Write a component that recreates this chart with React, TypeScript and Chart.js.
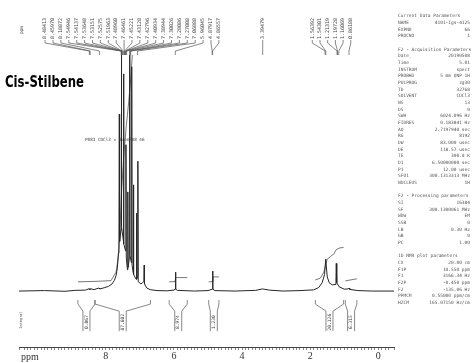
import { useEffect, useRef } from 'react';
import { Chart, registerables } from 'chart.js';

Chart.register(...registerables);

// ---- spectrum (ppm, intensity) ----
const specPpm = [10.55, 9.8, 9.2, 8.9, 8.6, 8.49, 8.47, 8.45, 8.35, 8.2, 8.18, 8.05, 7.92, 7.82, 7.75, 7.7, 7.66, 7.63,
  7.615, 7.605, 7.595, 7.555, 7.545, 7.535, 7.49, 7.48, 7.47, 7.42, 7.41, 7.4, 7.365, 7.355, 7.345,
  7.31, 7.3, 7.29, 7.25, 7.24, 7.23, 7.2, 7.19, 7.18, 7.11, 7.1, 7.09, 7.07, 7.06, 7.05,
  6.97, 6.93, 6.885, 6.875, 6.865, 6.8, 6.7, 6.5, 6.2, 6.0, 5.965, 5.955, 5.945, 5.9, 5.4, 5.0,
  4.875, 4.865, 4.855, 4.8, 4.2, 3.6, 3.4, 3.2, 2.8, 2.3, 1.9, 1.75, 1.65, 1.58, 1.545, 1.53, 1.5, 1.44,
  1.35, 1.27, 1.245, 1.235, 1.22, 1.15, 1.0, 0.88, 0.86, 0.84, 0.6, 0.2, -0.46];
const specInt = [0, 0.2, -0.1, 0.3, 0.4, 1.0, 0.5, 1.0, 0.6, 1.3, 0.9, 1.4, 2.0, 3.0, 4.5, 6.5, 10, 16,
  22, 75, 21, 26, 150, 27, 22, 92, 20, 17, 62, 14, 9, 42, 10,
  14, 150, 15, 12, 95, 11, 8, 45, 7, 5, 33, 5, 6, 55, 4,
  3, 3.5, 4, 11, 3, 1.3, 0.6, 0.2, 0.1, 0.4, 0.8, 8, 0.8, 0.3, 0, 0.2,
  0.8, 8.5, 0.8, 0.2, 0, 0.3, 0.9, 0.4, 0, 0.2, 0.5, 1.5, 3.5, 7, 13.5, 11, 6, 3.5,
  2.6, 2.8, 4, 11.7, 3.5, 1.8, 0.8, 0.9, 1.3, 0.7, 0.2, 0, 0];

// ---- integral traces ----
const intAPpm = [8.82, 8.32, 7.85, 7.7, 7.64, 7.59, 7.54, 7.47, 7.4, 7.33, 7.27, 7.2, 7.1];
const intAVal = [3.9, 4.1, 4.4, 8, 14, 24, 42, 58, 70, 80, 90, 105, 115];
const intBPpm = [6.14, 5.97, 5.95, 5.61];
const intBVal = [3.9, 4.0, 5.7, 5.7];
const intCPpm = [4.98, 4.875, 4.855, 4.68];
const intCVal = [3.9, 4.0, 6.0, 6.0];
const intDPpm = [1.85, 1.7, 1.6, 1.55, 1.5, 1.41, 1.3, 1.24, 1.15, 1.02];
const intDVal = [4.7, 5.5, 8, 11, 13.5, 14.6, 15.8, 17.5, 18.2, 18.5];
const intEPpm = [0.97, 0.63];
const intEVal = [4.3, 5.2];

// ---- integral regions ----
const intStart = [8.82, 8.32, 6.14, 4.98, 1.85, 0.97];
const intEnd = [8.32, 6.69, 5.61, 4.68, 1.02, 0.63];
const intLabels = ['0.067', '87.602', '8.974', '1.230', '20.126', '6.315'];

// ---- peak picking labels ----
const peaksLeft = ['8.48413', '8.45970', '8.18872', '7.54946', '7.54137', '7.53648', '7.53151', '7.52575',
  '7.51963', '7.48960', '7.46461', '7.45221', '7.43128', '7.42796', '7.40934', '7.38944', '7.30026',
  '7.28086', '7.27008', '7.06888', '5.96045', '4.87917', '4.86557'];
const peaksMid = ['3.39479'];
const peaksRight = ['1.56392', '1.54301', '1.21319', '1.19728', '1.16069', '0.86188'];

const xTickLabels = [8, 6, 4, 2, 0];

// ---- parameter panel ----
const paramKeys = ['Current Data Parameters', 'NAME', 'EXPNO', 'PROCNO', '',
  'F2 - Acquisition Parameters', 'Date_', 'Time', 'INSTRUM', 'PROBHD', 'PULPROG', 'TD', 'SOLVENT', 'NS', 'DS',
  'SWH', 'FIDRES', 'AQ', 'RG', 'DW', 'DE', 'TE', 'D1', 'P1', 'SFO1', 'NUCLEUS', '',
  'F2 - Processing parameters', 'SI', 'SF', 'WDW', 'SSB', 'LB', 'GB', 'PC', '',
  '1D NMR plot parameters', 'CX', 'F1P', 'F1', 'F2P', 'F2', 'PPMCM', 'HZCM'];
const paramVals = ['', '4101-Igs-4125', '66', '1', '',
  '', '20190508', '5.01', 'spect', '5 mm QNP 1H', 'zg30', '32768', 'CDCl3', '13', '0',
  '6024.096 Hz', '0.183841 Hz', '2.7197940 sec', '8192', '83.000 usec', '118.57 usec', '300.0 K',
  '6.50000000 sec', '12.00 usec', '300.1313313 MHz', '1H', '',
  '', '16384', '300.1300061 MHz', 'EM', '0', '0.30 Hz', '0', '1.00', '',
  '', '20.00 cm', '10.550 ppm', '3166.34 Hz', '-0.450 ppm', '-135.06 Hz', '0.55000 ppm/cm', '165.07150 Hz/cm'];

const toPts = (xs: number[], ys: number[]) => xs.map((x, i) => ({ x, y: ys[i] }));

const overlay = {
  id: 'nmrOverlay',
  afterDraw(chart: any) {
    const { ctx, chartArea } = chart;
    const xs = chart.scales.x;
    const ys = chart.scales.y;
    const top = chartArea.top;
    ctx.save();
    ctx.strokeStyle = '#555';
    ctx.fillStyle = '#444';
    ctx.lineWidth = 0.7;

    // peak labels with fan connectors
    const drawGroup = (labels: string[], pitch: number, shift: number) => {
      const targets = labels.map((l) => xs.getPixelForValue(parseFloat(l)));
      const mean = targets.reduce((a, b) => a + b, 0) / targets.length;
      const start = mean + shift - ((labels.length - 1) / 2) * pitch;
      ctx.font = "5px 'DejaVu Sans Mono'";
      labels.forEach((l, i) => {
        const lx = start + i * pitch;
        const tx = targets[i];
        ctx.beginPath();
        ctx.moveTo(lx, top - 15);
        ctx.lineTo(lx, top - 12);
        ctx.lineTo(tx, top - 4);
        ctx.lineTo(tx, top);
        ctx.stroke();
        ctx.save();
        ctx.translate(lx, top - 16);
        ctx.rotate(-Math.PI / 2);
        ctx.textAlign = 'left';
        ctx.textBaseline = 'middle';
        ctx.fillText(l, 0, 0);
        ctx.restore();
      });
    };
    drawGroup(peaksLeft, 7.9, 1);
    drawGroup(peaksMid, 7.9, 0);
    drawGroup(peaksRight, 7.7, -4);

    // integral brackets
    const yTop = ys.getPixelForValue(-3.8);
    const yKnee = ys.getPixelForValue(-5.5);
    const yMid = ys.getPixelForValue(-8.5);
    const yBot = ys.getPixelForValue(-17);
    ctx.font = "4.6px 'DejaVu Sans Mono'";
    intStart.forEach((s, i) => {
      const x1 = xs.getPixelForValue(s);
      const x2 = xs.getPixelForValue(intEnd[i]);
      const xm = (x1 + x2) / 2;
      ctx.beginPath();
      ctx.moveTo(x1, yTop);
      ctx.lineTo(x1, yKnee);
      ctx.lineTo(xm - 3.5, yMid);
      ctx.lineTo(xm - 3.5, yBot);
      ctx.moveTo(x2, yTop);
      ctx.lineTo(x2, yKnee);
      ctx.lineTo(xm + 3.5, yMid);
      ctx.lineTo(xm + 3.5, yBot);
      ctx.stroke();
      ctx.save();
      ctx.translate(xm, (yMid + yBot) / 2 + 1);
      ctx.rotate(-Math.PI / 2);
      ctx.textAlign = 'center';
      ctx.textBaseline = 'middle';
      ctx.fillText(intLabels[i], 0, 0);
      ctx.restore();
    });

    // small texts
    ctx.save();
    ctx.font = "4.5px 'DejaVu Sans Mono'";
    ctx.translate(22, 30);
    ctx.rotate(-Math.PI / 2);
    ctx.textAlign = 'center';
    ctx.textBaseline = 'middle';
    ctx.fillText('ppm', 0, 0);
    ctx.restore();

    ctx.save();
    ctx.font = "3.6px 'DejaVu Sans Mono'";
    ctx.translate(21, 320);
    ctx.rotate(-Math.PI / 2);
    ctx.textAlign = 'center';
    ctx.textBaseline = 'middle';
    ctx.fillText('Integral', 0, 0);
    ctx.restore();

    ctx.font = "4.3px 'DejaVu Sans Mono'";
    ctx.textAlign = 'left';
    ctx.textBaseline = 'middle';
    ctx.fillText('P083 CDCl3 v d:cm208 46', 85, 140);

    ctx.font = "10px 'Liberation Serif'";
    ctx.fillStyle = '#333';
    ctx.textBaseline = 'middle';
    ctx.fillText('ppm', 21, 357);

    // handwritten title
    ctx.save();
    ctx.fillStyle = '#000';
    ctx.font = "bold 15px 'DejaVu Sans'";
    const w = ctx.measureText('Cis-Stilbene').width;
    ctx.translate(5, 87);
    ctx.scale(79 / w, 1.05);
    ctx.textBaseline = 'alphabetic';
    ctx.fillText('Cis-Stilbene', 0, 0);
    ctx.restore();

    // parameter panel
    ctx.font = "4.5px 'DejaVu Sans Mono'";
    ctx.fillStyle = '#555';
    ctx.textBaseline = 'middle';
    paramKeys.forEach((k, i) => {
      const y = 16 + i * 6.67;
      ctx.textAlign = 'left';
      if (k) ctx.fillText(k, 398, y);
      ctx.textAlign = 'right';
      if (paramVals[i]) ctx.fillText(paramVals[i], 470, y);
    });

    ctx.restore();
  },
};

export default function App() {
  const ref = useRef<HTMLCanvasElement | null>(null);
  useEffect(() => {
    if (!ref.current) return;
    const intStyle = { borderColor: '#555', borderWidth: 0.8, pointRadius: 0, tension: 0 };
    const chart = new Chart(ref.current, {
      type: 'line',
      data: {
        datasets: [
          { data: toPts(specPpm, specInt), borderColor: '#262626', borderWidth: 1, pointRadius: 0, tension: 0 },
          { data: toPts(intAPpm, intAVal), ...intStyle },
          { data: toPts(intBPpm, intBVal), ...intStyle },
          { data: toPts(intCPpm, intCVal), ...intStyle },
          { data: toPts(intDPpm, intDVal), ...intStyle },
          { data: toPts(intEPpm, intEVal), ...intStyle },
        ],
      },
      options: {
        responsive: false,
        animation: false,
        devicePixelRatio: 1,
        events: [],
        layout: { padding: { left: 19, right: 80, top: 55, bottom: 1 } },
        plugins: { legend: { display: false }, tooltip: { enabled: false } },
        scales: {
          x: {
            type: 'linear',
            reverse: true,
            min: -0.46,
            max: 10.55,
            grid: { drawOnChartArea: false, drawTicks: true, tickLength: 3, tickWidth: 0.7, tickColor: '#555' },
            border: { display: true, color: '#444', width: 1 },
            ticks: {
              stepSize: 0.1,
              autoSkip: false,
              maxRotation: 0,
              minRotation: 0,
              padding: 0,
              color: '#333',
              font: { family: 'Liberation Serif', size: 10, lineHeight: 1.2 },
              callback: (v: any) => {
                const r = Math.round(Number(v) * 10) / 10;
                return xTickLabels.includes(r) ? String(r) : '';
              },
            },
          },
          y: { display: false, min: -23.7, max: 100 },
        },
      },
      plugins: [overlay],
    } as any);
    return () => chart.destroy();
  }, []);
  return (
    <div style={{ position: 'absolute', left: 0, top: 0, width: 474, height: 363, background: '#fff' }}>
      <canvas ref={ref} width={474} height={363} style={{ display: 'block' }} />
    </div>
  );
}
